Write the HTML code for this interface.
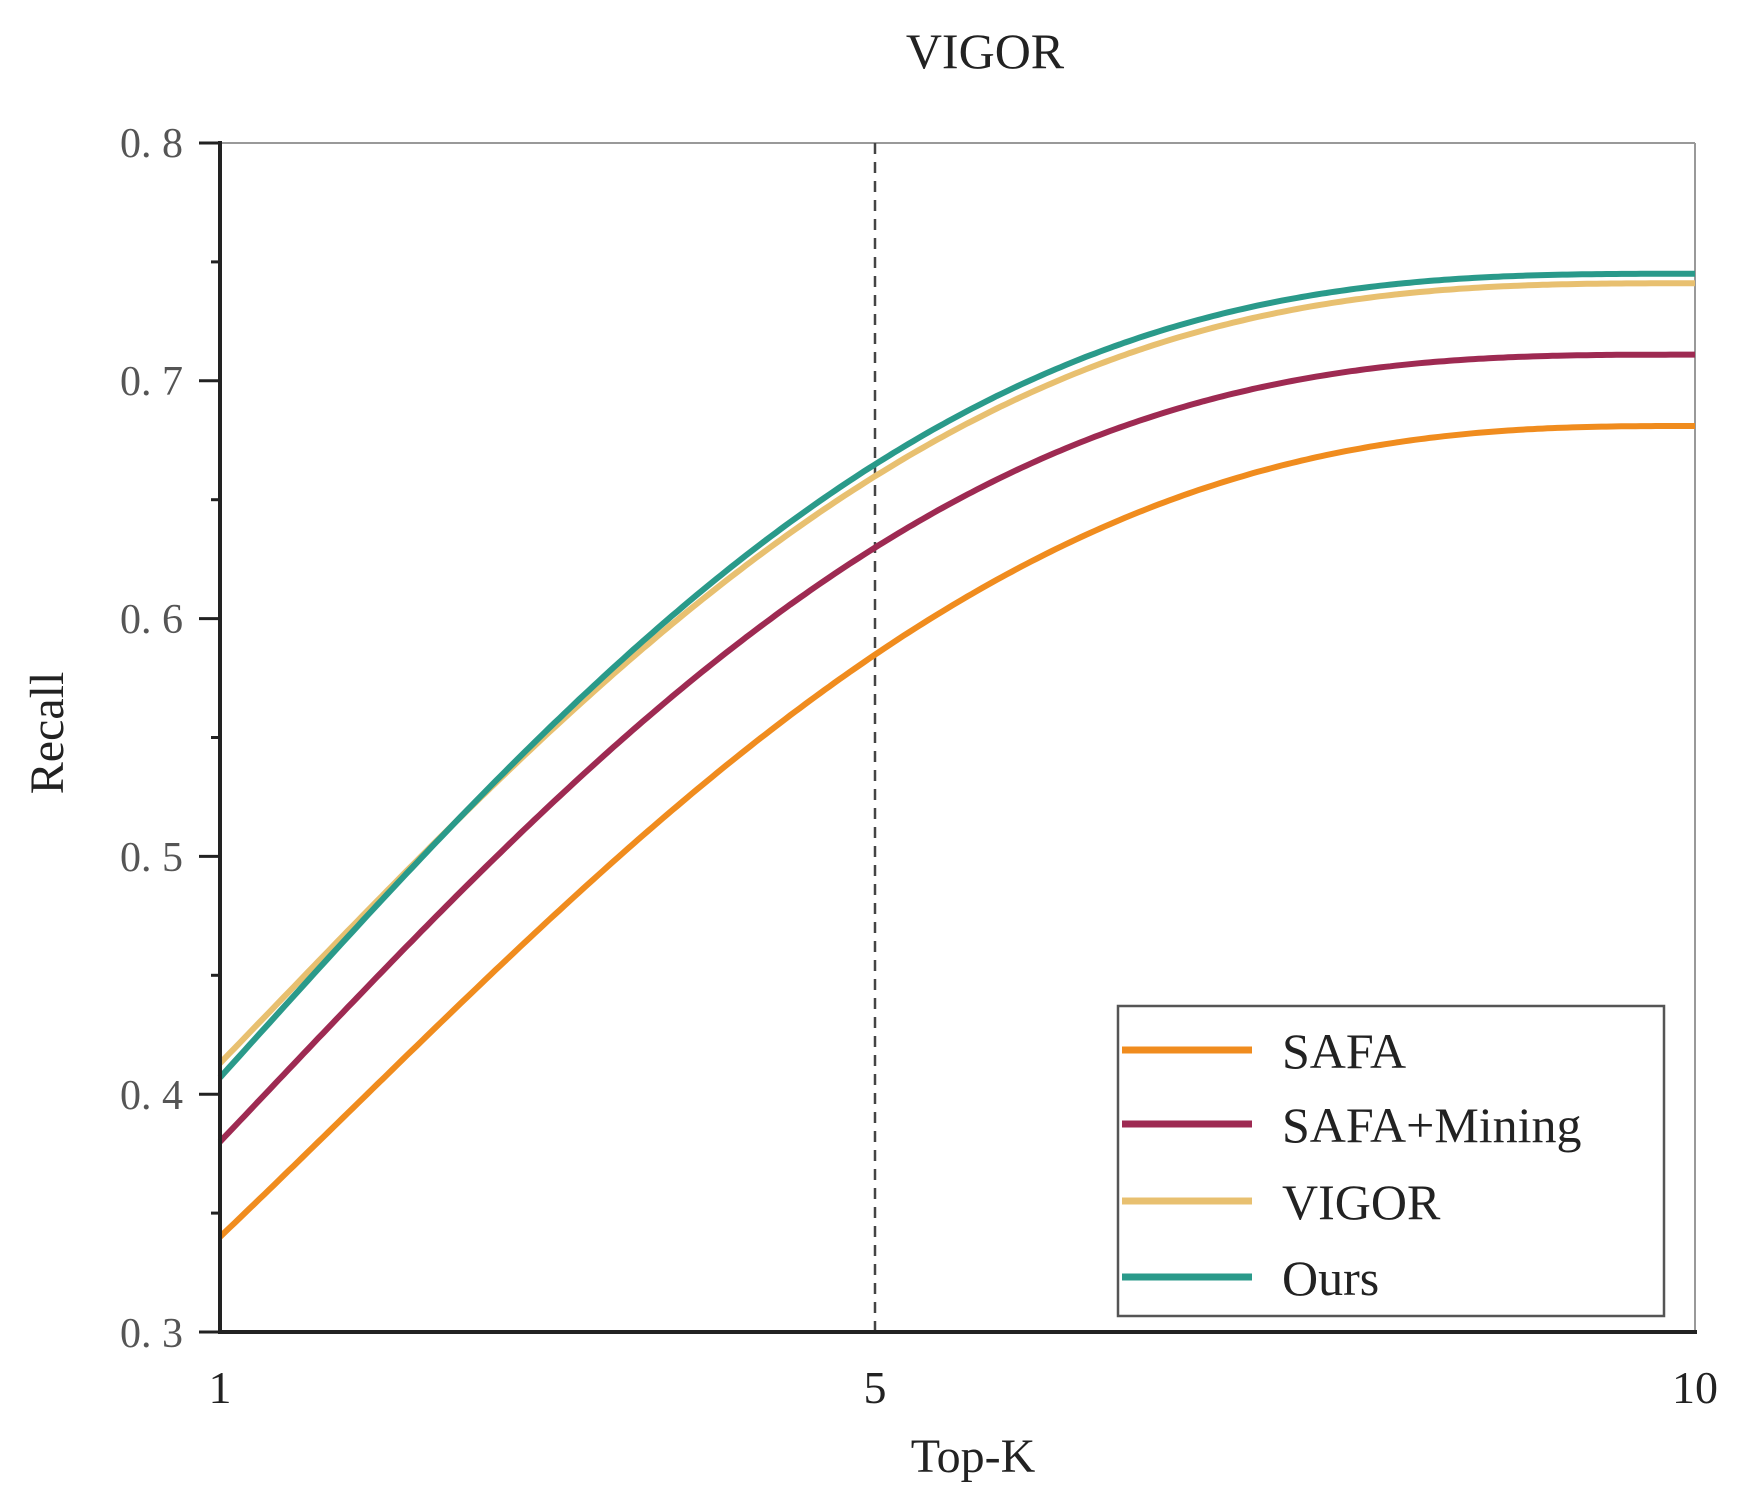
<!DOCTYPE html>
<html><head><meta charset="utf-8"><style>
html,body{margin:0;padding:0;background:#fff;}
svg{display:block;}
text{font-family:"Liberation Serif",serif;}
</style></head><body>
<svg id="s" width="1753" height="1510" viewBox="0 0 1753 1510" xmlns="http://www.w3.org/2000/svg">
<rect width="1753" height="1510" fill="#fff"/>
<text x="985" y="68" font-size="50" text-anchor="middle" fill="#222">VIGOR</text>
<line x1="220" y1="143" x2="1695" y2="143" stroke="#999" stroke-width="2"/>
<line x1="1695" y1="143" x2="1695" y2="1332" stroke="#999" stroke-width="2"/>
<line x1="875" y1="143" x2="875" y2="1332" stroke="#444" stroke-width="2.5" stroke-dasharray="11,8"/>
<g id="curves"></g>
<line x1="220" y1="141" x2="220" y2="1334" stroke="#222" stroke-width="4"/>
<line x1="218" y1="1332" x2="1697" y2="1332" stroke="#222" stroke-width="4"/>
<g id="ticks" stroke="#222" stroke-width="3"></g>
<g font-size="42" fill="#555" text-anchor="end">
<text x="183" y="157">0. 8</text>
<text x="183" y="395">0. 7</text>
<text x="183" y="633">0. 6</text>
<text x="183" y="871">0. 5</text>
<text x="183" y="1109">0. 4</text>
<text x="183" y="1347">0. 3</text>
</g>
<g font-size="46" fill="#222" text-anchor="middle">
<text x="220" y="1403">1</text>
<text x="875" y="1403">5</text>
<text x="1695" y="1403">10</text>
</g>
<text x="973" y="1472" font-size="48" text-anchor="middle" fill="#222">Top-K</text>
<text transform="translate(63,733) rotate(-90)" font-size="48" text-anchor="middle" fill="#222">Recall</text>
<rect x="1118" y="1006" width="546" height="310" fill="#fff" stroke="#555" stroke-width="2.5"/>
<g stroke-width="7">
<line x1="1122" y1="1050" x2="1252" y2="1050" stroke="#f08c1e"/>
<line x1="1122" y1="1124" x2="1252" y2="1124" stroke="#9e2a52"/>
<line x1="1122" y1="1201" x2="1252" y2="1201" stroke="#e8c070"/>
<line x1="1122" y1="1277" x2="1252" y2="1277" stroke="#2a9a8a"/>
</g>
<g font-size="50" fill="#222">
<text x="1282" y="1068">SAFA</text>
<text x="1282" y="1142">SAFA+Mining</text>
<text x="1282" y="1219">VIGOR</text>
<text x="1282" y="1295">Ours</text>
</g>
</svg>
<script>
(function(){
var ns="http://www.w3.org/2000/svg";
function X(k){return 220+(k-1)*(1475/9);}
function Y(v){return 1332-(v-0.3)*2378;}
var A=1.1;
var series=[
 {c:"#f08c1e",v1:0.34,v5:0.585,v10:0.681},
 {c:"#9e2a52",v1:0.38,v5:0.63,v10:0.711},
 {c:"#e8c070",v1:0.413,v5:0.66,v10:0.741},
 {c:"#2a9a8a",v1:0.407,v5:0.665,v10:0.745}
];
var g=document.getElementById("curves");
series.forEach(function(s){
 var t5=(s.v5-s.v1)/(s.v10-s.v1);
 var P=Math.log((1-t5)/(1+A*4/9))/Math.log(5/9);
 var d="";
 for(var i=0;i<=300;i++){var K=1+9*i/300;var u=(K-1)/9;
  var h=1-Math.pow(1-u,P)*(1+A*u);
  var v=s.v1+(s.v10-s.v1)*h;
  d+=(i?"L":"M")+X(K).toFixed(1)+","+Y(v).toFixed(1);}
 var p=document.createElementNS(ns,"path");p.setAttribute("d",d);p.setAttribute("fill","none");
 p.setAttribute("stroke",s.c);p.setAttribute("stroke-width","6");g.appendChild(p);
});
var t=document.getElementById("ticks");
for(var j=0;j<=10;j++){var y=143+j*118.9;var l=document.createElementNS(ns,"line");
 l.setAttribute("x1",j%2?211:199);l.setAttribute("x2",220);l.setAttribute("y1",y);l.setAttribute("y2",y);t.appendChild(l);}
})();
</script>
</body></html>
